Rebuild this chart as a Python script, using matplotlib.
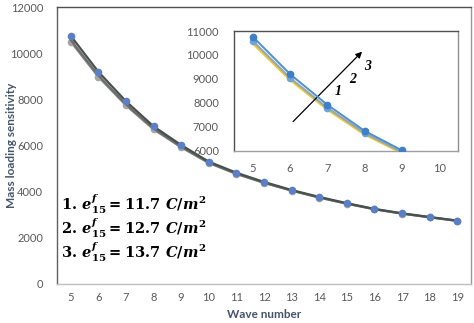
import numpy as np
import matplotlib.pyplot as plt

plt.rcParams['font.family'] = ['Lato', 'DejaVu Sans']
plt.rcParams['mathtext.fontset'] = 'custom'
plt.rcParams['mathtext.rm'] = 'DejaVu Serif:bold'
plt.rcParams['mathtext.it'] = 'DejaVu Serif:bold:italic'
plt.rcParams['mathtext.bf'] = 'DejaVu Serif:bold'

# wave number k and mass loading sensitivity for three e15 values
wave = [5, 6, 7, 8, 9, 10, 11, 12, 13, 14, 15, 16, 17, 18, 19]
sens_117 = [10500, 8980, 7740, 6700, 5920, 5240, 4765, 4380, 4040, 3740,
            3475, 3235, 3045, 2885, 2730]
sens_127 = [10580, 9040, 7790, 6740, 5950, 5260, 4780, 4390, 4050, 3750,
            3480, 3240, 3050, 2890, 2735]
sens_137 = [10760, 9200, 7920, 6830, 6020, 5300, 4820, 4420, 4070, 3770,
            3500, 3250, 3060, 2900, 2745]
labels = [r"$1.\, e_{15}^{f} = 11.7\ C/m^{2}$",
          r"$2.\, e_{15}^{f} = 12.7\ C/m^{2}$",
          r"$3.\, e_{15}^{f} = 13.7\ C/m^{2}$"]

tick_col = '#595959'
lab_col = '#44546A'

fig = plt.figure(figsize=(4.74, 3.23), dpi=100)
ax = fig.add_axes([0.120, 0.121, 0.874, 0.857])

ax.plot(wave, sens_117, color='#8c8c8c', lw=1.6, marker='o', ms=4.5,
        mfc='#a5a5a5', mec='#a5a5a5', zorder=2)
ax.plot(wave, sens_127, color='#6b6b6b', lw=1.6, zorder=3)
ax.plot(wave, sens_137, color='#47524f', lw=1.6, marker='o', ms=4.5,
        mfc='#5b7fc4', mec='#5b7fc4', zorder=4)

ax.set_xlim(4.5, 19.5)
ax.set_ylim(0, 12000)
ax.set_xticks(wave)
ax.set_yticks(np.arange(0, 12001, 2000))
ax.tick_params(length=0, labelsize=8, colors=tick_col)
ax.tick_params(axis='y', pad=10)
ax.tick_params(axis='x', pad=6)
ax.set_xlabel('Wave number', fontsize=8.5, fontweight='bold', color=lab_col)
ax.set_ylabel('Mass loading sensitivity', fontsize=8.5, fontweight='bold',
              color=lab_col)
ax.xaxis.set_label_coords(0.5, -0.09)
ax.yaxis.set_label_coords(-0.097, 0.5)
ax.spines['left'].set_color('#606060')
ax.spines['top'].set_color('#505050')
ax.spines['right'].set_color('#9a9a9a')
ax.spines['bottom'].set_color('#c0c0c0')
for sp in ax.spines.values():
    sp.set_linewidth(1.0)

for lab, y in zip(labels, [3466, 2426, 1386]):
    ax.text(4.64, y, lab, fontsize=10.5, va='center', ha='left', color='black')

# zoomed view of the first wave numbers
ins = fig.add_axes([0.494, 0.533, 0.472, 0.371])
ins.plot(wave, sens_117, color='#e8cf3a', lw=2.2, zorder=2)
ins.plot(wave, sens_127, color='#9aa6b0', lw=1.6, marker='o', ms=4.5,
         mfc='#6ea3d8', mec='#6ea3d8', zorder=3)
ins.plot(wave, sens_137, color='#4f8fcf', lw=1.4, marker='o', ms=4.5,
         mfc='#3f7fc8', mec='#3f7fc8', zorder=4)
ins.set_xlim(4.5, 10.5)
ins.set_ylim(6000, 11000)
ins.set_xticks(wave[:6])
ins.set_yticks(np.arange(6000, 11001, 1000))
ins.tick_params(length=0, labelsize=8, colors=tick_col)
ins.tick_params(axis='y', pad=11)
ins.tick_params(axis='x', pad=9)
ins.spines['left'].set_color('#505050')
ins.spines['top'].set_color('#505050')
ins.spines['right'].set_color('#909090')
ins.spines['bottom'].set_color('#a0a0a0')
for sp in ins.spines.values():
    sp.set_linewidth(1.0)

ins.annotate('', xy=(7.93, 10138), xytext=(6.08, 7221),
             arrowprops=dict(arrowstyle='-|>', color='black', lw=0.9,
                             mutation_scale=9, shrinkA=0, shrinkB=0))
for txt, x, y in [('1', 7.29, 8471), ('2', 7.69, 8988), ('3', 8.09, 9513)]:
    ins.text(x, y, txt, fontsize=10, family='Liberation Serif',
             fontweight='bold', style='italic', ha='center', va='center')

fig.savefig('out.png', dpi=100)
